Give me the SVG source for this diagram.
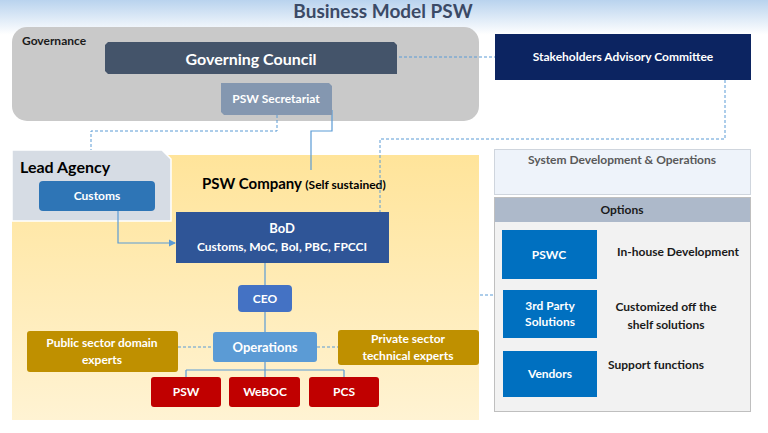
<svg xmlns="http://www.w3.org/2000/svg" width="768" height="433" viewBox="0 0 768 433">
<defs>
<linearGradient id="bg" x1="0" y1="0" x2="0" y2="1"><stop offset="0" stop-color="#b9d3ee"/><stop offset="0.08" stop-color="#ffffff"/><stop offset="1" stop-color="#ffffff"/></linearGradient>
<linearGradient id="yel" x1="0" y1="0" x2="0" y2="1"><stop offset="0" stop-color="#ffe49a"/><stop offset="1" stop-color="#fff3d3"/></linearGradient>
<marker id="ar" markerWidth="6" markerHeight="6" refX="5" refY="3" orient="auto"><path d="M0,0 L6,3 L0,6 z" fill="#5b9bd5"/></marker>
</defs>
<style>
text{font-family:Lato,"Open Sans",sans-serif;font-weight:bold}
.w{fill:#fff;font-size:12px}
.c{text-anchor:middle}
.dk{fill:#1a1a1a;font-size:12px}
.sl{stroke:#5b9bd5;stroke-width:1.2;fill:none}
.dl{stroke:#5b9bd5;stroke-width:1;fill:none;stroke-dasharray:3 2}
</style>
<rect width="768" height="433" fill="url(#bg)"/>
<text x="383" y="18" class="c" style="font-size:19px;fill:#3b4a66">Business Model PSW</text>

<g id="governance"><rect x="12" y="27" width="467" height="94" rx="15" fill="#c9c9c9"/><text x="22" y="45" class="dk">Governance</text></g>
<g id="psw-company"><rect x="12" y="155" width="467" height="265" fill="url(#yel)"/><text x="202" y="189" style="font-size:15px;fill:#000">PSW Company <tspan style="font-size:12px">(Self sustained)</tspan></text></g>
<g id="lead-agency"><path d="M12,150 H162 L171,159 V221 H12 Z" fill="#d6dce4" stroke="#fff" stroke-width="1.5"/><text x="20" y="173" style="font-size:16px;fill:#000">Lead Agency</text></g>

<g id="connectors">
<path class="dl" d="M384,57 H495"/>
<path class="dl" d="M725,80 V139 H380 V213"/>
<path class="dl" d="M277,115 V131 H91 V150"/>
<path class="sl" d="M332,110 V131 H311 V170"/>
<path class="sl" d="M63,207 H118 V243 H175" marker-end="url(#ar)"/>
<path class="sl" d="M265,263 V286 M265,312 V332 M265,362 V370 M186,370 H344 M186,370 V377 M265,370 V377 M344,370 V377"/>
<path class="dl" d="M178,347 H213 M317,347 H338 M480,295 H494"/>
</g>

<g id="governing-council"><path d="M108,42 H394 L397,45 V74 H108 L105,71 V45 Z" fill="#44546a"/><text x="251" y="65" class="c" style="fill:#fff;font-size:16px">Governing Council</text></g>
<g id="secretariat"><path d="M221,83 H329 L332,86 V115 H224 L221,112 Z" fill="#8497b0"/><text x="276" y="103" class="c w">PSW Secretariat</text></g>
<g id="sac"><rect x="495" y="34" width="256" height="46" fill="#0c2461"/><text x="623" y="61" class="c w">Stakeholders Advisory Committee</text></g>
<g id="customs"><rect x="39" y="181" width="116" height="30" rx="4" fill="#2e75b6"/><text x="97" y="200" class="c w">Customs</text></g>
<g id="bod"><rect x="176" y="212" width="213" height="51" fill="#2f5597"/><text x="282" y="233" class="c w" style="font-size:13px">BoD</text><text x="282" y="251" class="c w">Customs, MoC, BoI, PBC, FPCCI</text></g>
<g id="ceo"><rect x="238" y="285" width="54" height="27" rx="4" fill="#4472c4"/><text x="265" y="303" class="c w">CEO</text></g>
<g id="operations"><rect x="213" y="332" width="104" height="30" rx="3" fill="#5b9bd5"/><text x="265" y="352" class="c w" style="font-size:13px">Operations</text></g>
<g id="public"><rect x="27" y="331" width="151" height="41" rx="3" fill="#bf9000"/><text x="102" y="347" class="c w">Public sector domain</text><text x="102" y="364" class="c w">experts</text></g>
<g id="private"><rect x="338" y="330" width="141" height="35" rx="3" fill="#bf9000"/><text x="408" y="343" class="c w">Private sector</text><text x="408" y="360" class="c w">technical experts</text></g>
<g id="psw"><rect x="151" y="377" width="70" height="30" rx="3" fill="#c00000"/><text x="186" y="396" class="c w">PSW</text></g>
<g id="weboc"><rect x="229" y="377" width="71" height="30" rx="3" fill="#c00000"/><text x="265" y="396" class="c w">WeBOC</text></g>
<g id="pcs"><rect x="309" y="377" width="70" height="30" rx="3" fill="#c00000"/><text x="344" y="396" class="c w">PCS</text></g>

<g id="sysdev"><rect x="494.5" y="149.5" width="256" height="45" fill="#eef3fa" stroke="#cfd5dd"/><text x="622" y="164" class="c" style="fill:#595959;font-size:12px">System Development &amp; Operations</text></g>
<g id="options"><rect x="494.5" y="197.5" width="256" height="214" fill="#f2f2f2" stroke="#bfbfbf"/><rect x="495" y="198" width="255" height="24" fill="#adb9ca"/><text x="622" y="214" class="c dk">Options</text></g>
<g id="pswc"><rect x="502" y="230" width="95" height="49" fill="#0070c0"/><text x="549" y="259" class="c w">PSWC</text><text x="678" y="256" class="c dk">In-house Development</text></g>
<g id="third"><rect x="503" y="290" width="94" height="48" fill="#0070c0"/><text x="550" y="310" class="c w">3rd Party</text><text x="550" y="326" class="c w">Solutions</text><text x="666" y="311" class="c dk">Customized off the</text><text x="666" y="329" class="c dk">shelf solutions</text></g>
<g id="vendors"><rect x="503" y="351" width="94" height="46" fill="#0070c0"/><text x="550" y="378" class="c w">Vendors</text><text x="656" y="369" class="c dk">Support functions</text></g>
</svg>
